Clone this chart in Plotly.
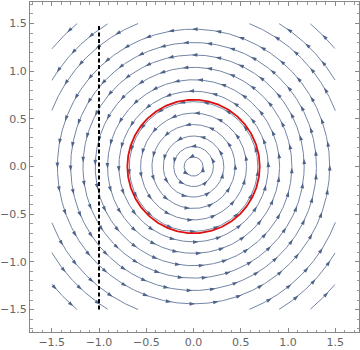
import numpy as np
import plotly.graph_objects as go

# streamline radii (concentric circles of the rotation field)
radii = [0.10, 0.21, 0.32, 0.44, 0.56, 0.68, 0.79, 0.91, 1.04, 1.17, 1.30, 1.44, 1.61, 1.75, 1.94]
box_half = 1.5          # stream region [-1.5, 1.5]^2
red_radius = 0.70       # highlighted closed orbit
dashed_x = -1.0         # vertical dashed line
dashed_y = [-1.5, 1.5]
arrow_spacing = 0.25    # arc-length between arrowheads
tick_vals = [-1.5, -1.0, -0.5, 0.0, 0.5, 1.0, 1.5]
tick_text = ["\u22121.5", "\u22121.0", "\u22120.5", "0.0", "0.5", "1.0", "1.5"]

line_col = "#637799"
arrow_col = "#4e6389"

fig = go.Figure()

lx, ly = [], []
ax_, ay_, aang = [], [], []
for i, r in enumerate(radii):
    th = np.linspace(0, 2 * np.pi, 1200)
    x = r * np.cos(th)
    y = r * np.sin(th)
    inside = (np.abs(x) <= box_half) & (np.abs(y) <= box_half)
    prev = False
    for xx, yy, ok in zip(x, y, inside):
        if ok:
            lx.append(xx); ly.append(yy)
        elif prev:
            lx.append(None); ly.append(None)
        prev = ok
    lx.append(None); ly.append(None)
    # arrowheads
    n = max(2, int(round(2 * np.pi * r / arrow_spacing)))
    off = (i * 0.37) % 1.0
    for k in range(n):
        t = 2 * np.pi * (k + off) / n
        px, py = r * np.cos(t), r * np.sin(t)
        if abs(px) <= box_half - 0.03 and abs(py) <= box_half - 0.03:
            dx, dy = -np.sin(t), np.cos(t)
            ax_.append(px); ay_.append(py)
            aang.append(np.degrees(np.arctan2(dx, dy)))

fig.add_trace(go.Scatter(x=lx, y=ly, mode="lines",
                         line=dict(color=line_col, width=0.9),
                         hoverinfo="skip", showlegend=False))
fig.add_trace(go.Scatter(x=ax_, y=ay_, mode="markers",
                         marker=dict(symbol="arrow", size=6, angle=aang,
                                     color=arrow_col, line=dict(width=0)),
                         hoverinfo="skip", showlegend=False))

th = np.linspace(0, 2 * np.pi, 400)
fig.add_trace(go.Scatter(x=red_radius * np.cos(th), y=red_radius * np.sin(th),
                         mode="lines", line=dict(color="#dd1111", width=1.8),
                         hoverinfo="skip", showlegend=False))
fig.add_trace(go.Scatter(x=[dashed_x, dashed_x], y=dashed_y, mode="lines",
                         line=dict(color="black", width=2, dash="4px,2.5px"),
                         hoverinfo="skip", showlegend=False))

axis_common = dict(
    showgrid=False, zeroline=False, showline=True, linecolor="#888888",
    linewidth=1, mirror="allticks", ticks="inside", ticklen=4,
    tickcolor="#888888", tickwidth=1,
    tickvals=tick_vals, ticktext=tick_text,
    tickfont=dict(family="DejaVu Sans", size=11, color="#666666"),
    minor=dict(dtick=0.1, tick0=0, ticks="inside", ticklen=2.5,
               tickcolor="#999999", showgrid=False),
)
fig.update_layout(
    width=360, height=350,
    margin=dict(l=28, r=0, t=2, b=18),
    plot_bgcolor="white", paper_bgcolor="white",
    xaxis=dict(range=[-1.73, 1.75], **axis_common),
    yaxis=dict(range=[-1.735, 1.725], **axis_common),
)
fig.write_html("out.html")
